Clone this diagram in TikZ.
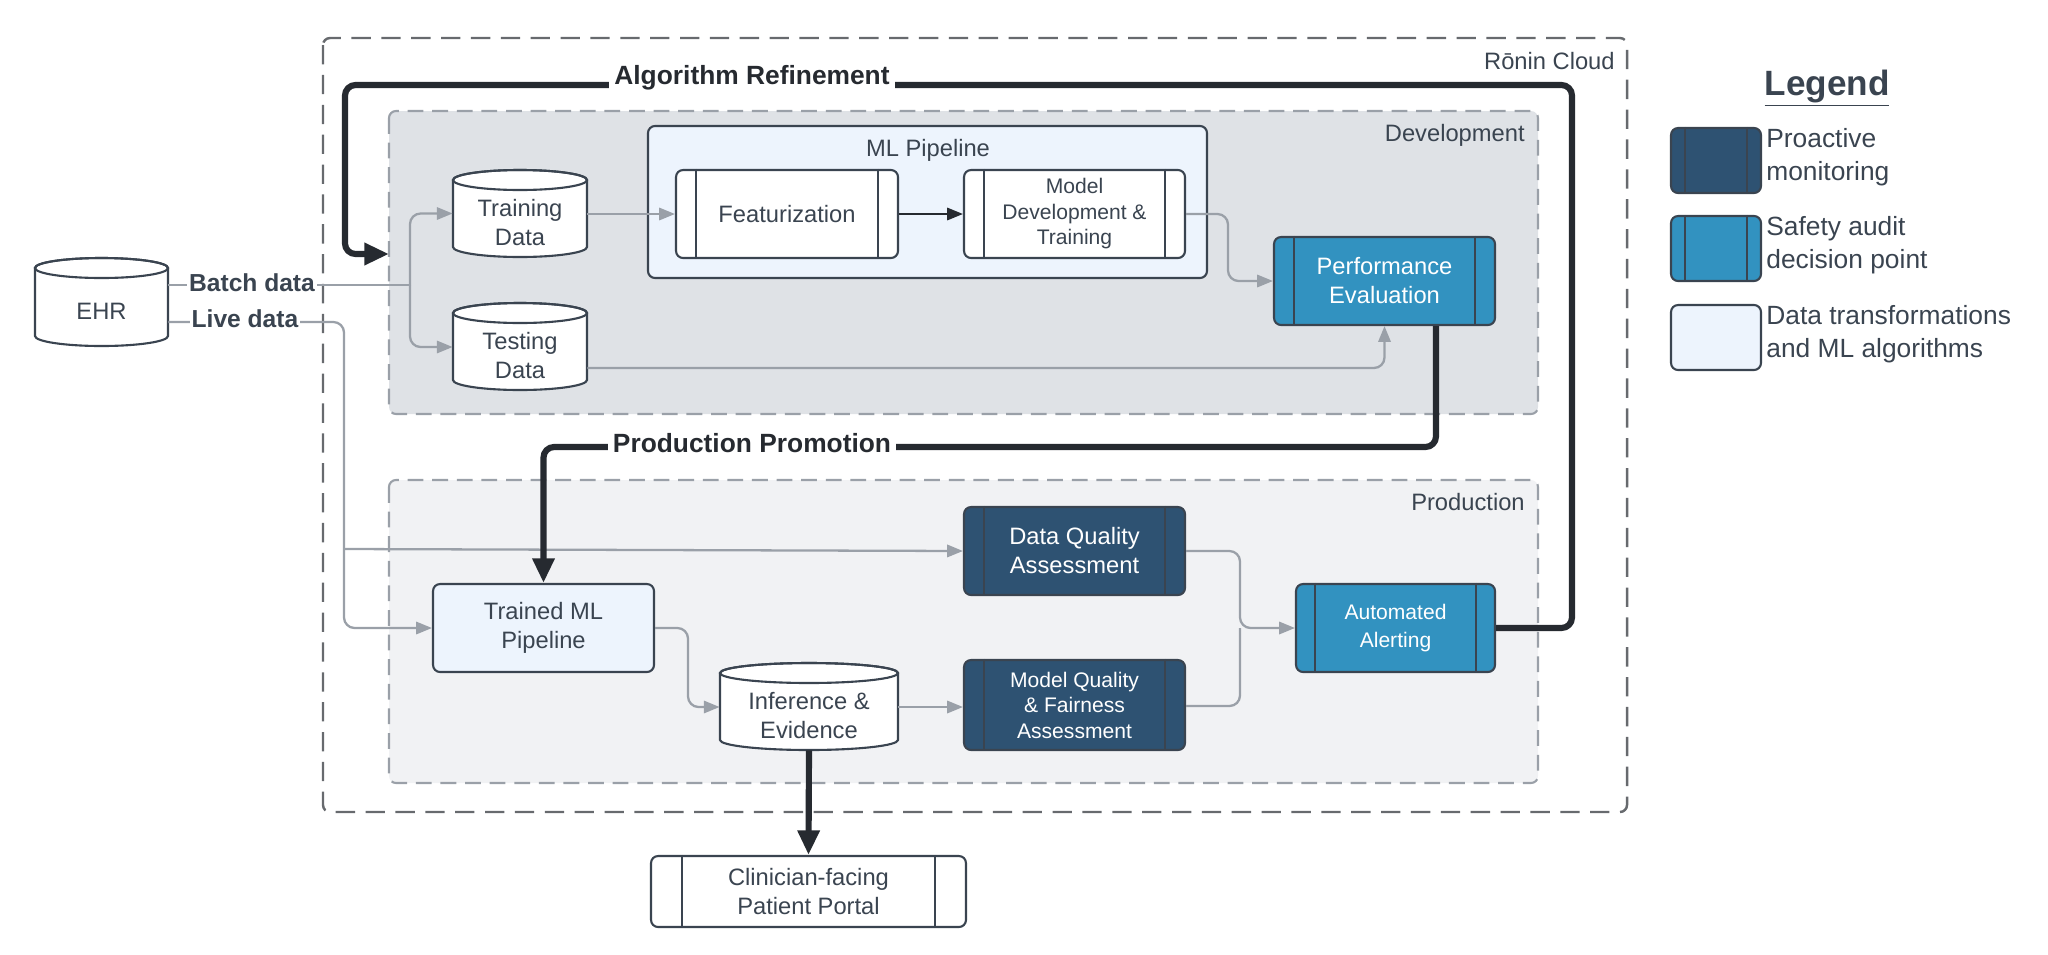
\documentclass[tikz,border=0pt]{standalone}
\usepackage{fontspec}
\setmainfont{Liberation Sans}
\usetikzlibrary{arrows.meta,calc}
\definecolor{dk}{HTML}{2E5272}
\definecolor{md}{HTML}{3292C0}
\definecolor{lt}{HTML}{EDF4FD}
\definecolor{bd}{HTML}{3A4450}
\definecolor{gl}{HTML}{9AA0A8}
\definecolor{tk}{HTML}{262A30}
\definecolor{devf}{HTML}{DFE2E6}
\definecolor{prof}{HTML}{F1F2F4}
\definecolor{txt}{HTML}{3A4450}
\tikzset{
  box/.style={draw=bd,line width=1.2pt,rounded corners=4pt,align=center,text=txt,font=\fontsize{13.5}{16.5}\selectfont},
  dkb/.style={box,fill=dk,text=white},
  mdb/.style={box,fill=md,text=white},
  ltb/.style={box,fill=lt},
  wb/.style={box,fill=white},
  cylt/.style={align=center,text=txt,font=\fontsize{13.5}{16.5}\selectfont},
  gline/.style={draw=gl,line width=1.3pt,rounded corners=6pt,-{Triangle[length=9pt,width=7pt]}},
  tline/.style={draw=tk,line width=3.5pt,rounded corners=6pt,-{Triangle[length=14pt,width=12pt]}},
  blab/.style={font=\bfseries\fontsize{14}{16}\selectfont,text=txt,fill=white,inner sep=1pt},
  blabd/.style={font=\bfseries\fontsize{15}{18}\selectfont,text=tk,inner sep=1pt},
  region/.style={draw=gl,dash pattern=on 9pt off 5pt,line width=1.2pt,rounded corners=4pt},
}
\newcommand{\ppl}[2]{\draw[bd,line width=1.2pt] ([xshift=#2]#1.north west)--([xshift=#2]#1.south west) ([xshift=-#2]#1.north east)--([xshift=-#2]#1.south east);}
% cylinder: name, x1,y1,x2,y2, text
\newcommand{\mycyl}[6]{%
  \pgfmathsetmacro\cx{(#2+#4)/2}\pgfmathsetmacro\cy{(#3+#5)/2}\pgfmathsetmacro\rr{(#4-#2)/2}%
  \filldraw[bd,fill=white,line width=1.2pt] (#2,#3+10) -- (#2,#5-10) arc[start angle=180,end angle=0,x radius=\rr,y radius=10] -- (#4,#3+10) arc[start angle=0,end angle=-180,x radius=\rr,y radius=10] -- cycle;
  \draw[bd,line width=1.2pt] (\cx,#3+10) ellipse[x radius=\rr,y radius=10];
  \node[minimum width={(#4-#2)*0.02cm},minimum height={(#5-#3)*0.02cm},inner sep=0pt] (#1) at (\cx,\cy) {};
  \node[cylt,inner sep=0pt] (#1-t) at (\cx,\cy+9) {#6};}
\begin{document}
\begin{tikzpicture}[x=0.02cm,y=-0.02cm]
\useasboundingbox (0,0) rectangle (2048,954);
% regions
\draw[tk!70,dash pattern=on 11pt off 6pt,line width=1.4pt,rounded corners=4pt] (323,38) rectangle (1627,812);
\node[anchor=north east,text=txt,font=\fontsize{13.5}{16}\selectfont,inner sep=0pt] (ronin) at (1615,52) {Rōnin Cloud};
\filldraw[region,fill=devf] (389,111) rectangle (1538,414);
\node[anchor=north east,text=txt,font=\fontsize{13.5}{16}\selectfont,inner sep=0pt] (devl) at (1525,124) {Development};
\filldraw[region,fill=prof] (389,480) rectangle (1538,783);
\node[anchor=north east,text=txt,font=\fontsize{13.5}{16}\selectfont,inner sep=0pt] (prol) at (1525,493) {Production};
% ML pipeline
\draw[bd,fill=lt,line width=1.2pt,rounded corners=4pt] (648,126) rectangle (1207,278);
\node[text=txt,font=\fontsize{13.5}{16}\selectfont] (mlp) at (928,150) {ML Pipeline};
% cylinders
\mycyl{ehr}{35}{258}{168}{346}{EHR}
\mycyl{train}{453}{170}{587}{257}{Training\\Data}
\mycyl{test}{453}{303}{587}{390}{Testing\\Data}
\mycyl{inf}{720}{663}{898}{750}{Inference \&\\Evidence}
% boxes
\node[wb,minimum width=4.44cm,minimum height=1.76cm] (feat) at (787,214) {Featurization};
\ppl{feat}{0.42cm}
\node[wb,minimum width=4.42cm,minimum height=1.76cm,font=\fontsize{12}{14.5}\selectfont] (mdev) at (1074.5,214) {Model\\Development \&\\Training};
\ppl{mdev}{0.42cm}
\node[mdb,minimum width=4.42cm,minimum height=1.76cm] (perf) at (1384.5,281) {Performance\\Evaluation};
\ppl{perf}{0.42cm}
\node[ltb,minimum width=4.42cm,minimum height=1.76cm] (tml) at (543.5,628) {Trained ML\\Pipeline};
\node[dkb,minimum width=4.42cm,minimum height=1.76cm] (dqa) at (1074.5,551) {Data Quality\\Assessment};
\ppl{dqa}{0.42cm}
\node[dkb,minimum width=4.42cm,minimum height=1.8cm,font=\fontsize{12}{14.5}\selectfont] (mqa) at (1074.5,705) {Model Quality\\\& Fairness\\Assessment};
\ppl{mqa}{0.42cm}
\node[mdb,minimum width=3.98cm,minimum height=1.76cm,font=\fontsize{12}{15.5}\selectfont] (alert) at (1395.5,628) {Automated\\Alerting};
\ppl{alert}{0.4cm}
\node[wb,minimum width=6.3cm,minimum height=1.42cm] (clin) at (808.5,891.5) {Clinician-facing\\Patient Portal};
\ppl{clin}{0.64cm}
% legend
\node[font=\bfseries\fontsize{20}{24}\selectfont,text=txt] (leg) at (1827,88) {\underline{Legend}};
\node[dkb,minimum width=1.8cm,minimum height=1.3cm] (l1) at (1716,160.5) {};
\ppl{l1}{0.3cm}
\node[mdb,minimum width=1.8cm,minimum height=1.3cm] (l2) at (1716,248.5) {};
\ppl{l2}{0.3cm}
\node[ltb,minimum width=1.8cm,minimum height=1.3cm] (l3) at (1716,337.5) {};
\node[anchor=west,align=left,text=txt,font=\fontsize{15}{18.5}\selectfont,inner sep=0pt] (t1) at (1766,157) {Proactive\\monitoring};
\node[anchor=west,align=left,text=txt,font=\fontsize{15}{18.5}\selectfont,inner sep=0pt] (t2) at (1766,245) {Safety audit\\decision point};
\node[anchor=west,align=left,text=txt,font=\fontsize{15}{18.5}\selectfont,inner sep=0pt] (t3) at (1766,334) {Data transformations\\and ML algorithms};
% grey connectors
\coordinate (bj) at (410,285);
\draw[gl,line width=1.3pt] (ehr.east|-0,285) -- (bj);
\draw[gline] (bj) |- (train.west);
\draw[gline] (bj) |- (test.west|-0,347);
\node[blab] (bl) at (252,283) {Batch data};
\coordinate (lj) at (344,549);
\draw[gl,line width=1.3pt,rounded corners=6pt] (ehr.east|-0,322) -| (lj);
\draw[gline] (lj) -- (dqa.west);
\draw[gline] (lj) |- (tml.west);
\node[blab] (ll) at (245,319) {Live data};
\draw[gline] (train.east|-0,214) -- (feat.west);
\draw[tk,line width=1.3pt,-{Triangle[length=9pt,width=7pt]}] (feat) -- (mdev);
\draw[gline] (mdev.east) -- (1228,214) |- (perf.west);
\draw[gline] (test.east|-0,368) -| (perf.south);
\draw[gline] (tml.east) -- (688,628) |- (inf.west|-0,707);
\draw[gline] (inf.east|-0,707) -- (mqa.west|-0,707);
\draw[gline] (dqa.east) -- (1240,551) |- (alert.west);
\draw[gl,line width=1.3pt,rounded corners=6pt] (mqa.east|-0,706) -- (1240,706) -- (1240,628);
% thick
\draw[tline] (perf.south-|1436,0) -- (1436,447) -| (tml.north);
\node[blabd] (pp) at (752,443) {\colorbox{white}{Production Promotion}};
\draw[tline] (alert.east) -- (1572,628) -- (1572,85) -- (345,85) -- (345,254) -- (389,254);
\node[blabd] (ar) at (752,78) {\colorbox{white}{Algorithm Refinement}};
\draw[tline] (inf.south) -- (clin.north);
\end{tikzpicture}
\end{document}
